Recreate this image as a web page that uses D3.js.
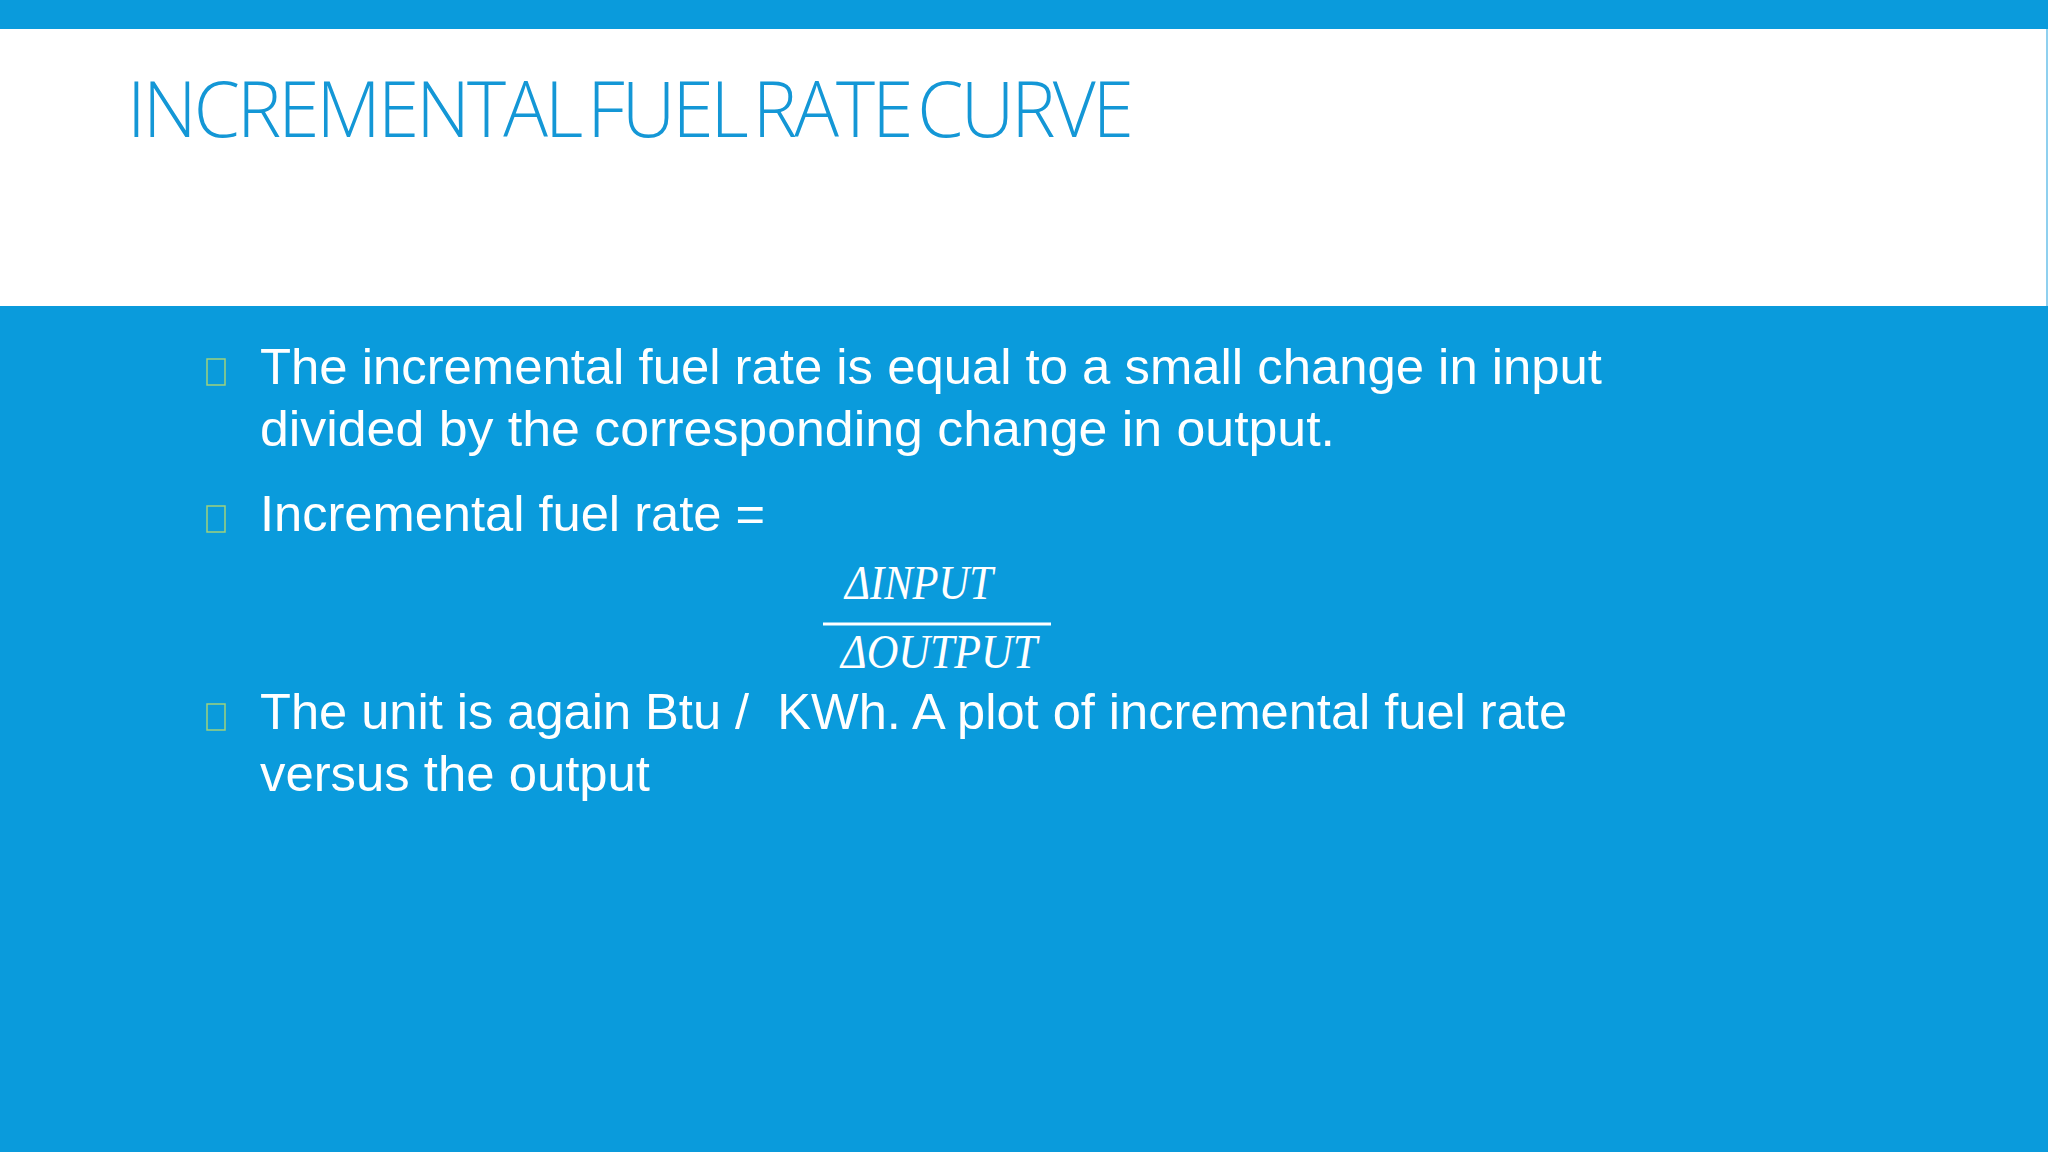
<!DOCTYPE html>
<head>
    <meta charset="utf-8">
    <title>Incremental fuel rate curve</title>
    <script src="https://d3js.org/d3.v7.min.js" charset="utf-8"></script>
    <style>
    body{
        margin:0;
        overflow:hidden;
        background:#0a9bdc;
    }
    text.title {
        font-family: "Open Sans", "Liberation Sans", sans-serif;
        font-weight: 300;
        fill: #1497d6;
        letter-spacing: -3px;
        word-spacing: -10px;
    }
    text.body {
        font-family: "Liberation Sans", Arial, sans-serif;
        fill: #ffffff;
    }
    text.frac {
        font-family: "Liberation Serif", "Times New Roman", serif;
        font-style: italic;
        fill: #ffffff;
    }
    rect.bullet {
        fill: none;
        stroke: #9fd27c;
        stroke-width: 1.5;
    }
    </style>
</head>
<body>
<div id="slide"></div>

<script>
    // slide content
    var titleText = "INCREMENTAL FUEL RATE CURVE";
    var bullet1 = ["The incremental fuel rate is equal to a small change in input",
                   "divided by the corresponding change in output."];
    var bullet2 = ["Incremental fuel rate ="];
    var bullet3 = ["The unit is again Btu /  KWh. A plot of incremental fuel rate",
                   "versus the output"];
    var fraction = ["\u0394INPUT", "\u0394OUTPUT"];

    var width = 2048;
    var height = 1152;
    var blue = "#0a9bdc";

    // layout (measured from the slide)
    var textLeft = 260;
    var lineGap = 62;
    var firstBaselines = [384, 531, 729];
    var lineWidths = [[1342, 1075], [505], [1307, 390]];

    var svg = d3.select("#slide").append("svg")
        .attr("width", width)
        .attr("height", height);

    svg.append("rect").attr("x", 0).attr("y", 0)
        .attr("width", width).attr("height", height)
        .attr("fill", blue);

    // white title band
    svg.append("rect").attr("x", 0).attr("y", 29)
        .attr("width", width - 2).attr("height", 277)
        .attr("fill", "#ffffff");
    svg.append("rect").attr("x", width - 2).attr("y", 29)
        .attr("width", 2).attr("height", 277)
        .attr("fill", "#8fd0ef");

    svg.append("text").attr("class", "title")
        .attr("x", 127)
        .attr("y", 137)
        .attr("font-size", 78)
        .attr("textLength", 1004)
        .attr("lengthAdjust", "spacingAndGlyphs")
        .text(titleText);

    // bullets
    var bullets = [bullet1, bullet2, bullet3];
    var lines = [];
    bullets.forEach(function (b, i) {
        b.forEach(function (t, j) {
            lines.push({text: t, y: firstBaselines[i] + j * lineGap, w: lineWidths[i][j], first: j == 0});
        });
    });

    svg.selectAll("rect.bullet")
        .data(lines.filter(function (d) { return d.first; }))
        .enter().append("rect")
        .attr("class", "bullet")
        .attr("x", 207)
        .attr("y", function (d) { return d.y - 25; })
        .attr("width", 18)
        .attr("height", 26);

    svg.selectAll("text.body")
        .data(lines)
        .enter().append("text")
        .attr("class", "body")
        .attr("x", textLeft)
        .attr("y", function (d) { return d.y; })
        .attr("font-size", 50)
        .attr("textLength", function (d) { return d.w; })
        .attr("lengthAdjust", "spacingAndGlyphs")
        .style("white-space", "pre")
        .text(function (d) { return d.text; });

    // fraction  dINPUT / dOUTPUT
    var fracX = [845, 841];
    var fracY = [599, 668];
    var fracW = [148, 196];
    svg.selectAll("text.frac")
        .data(fraction)
        .enter().append("text")
        .attr("class", "frac")
        .attr("x", function (d, i) { return fracX[i]; })
        .attr("y", function (d, i) { return fracY[i]; })
        .attr("font-size", 48)
        .attr("textLength", function (d, i) { return fracW[i]; })
        .attr("lengthAdjust", "spacingAndGlyphs")
        .text(function (d) { return d; });

    svg.append("line")
        .attr("x1", 823).attr("x2", 1051)
        .attr("y1", 624).attr("y2", 624)
        .attr("stroke", "#ffffff")
        .attr("stroke-width", 3);
</script>
</body>
